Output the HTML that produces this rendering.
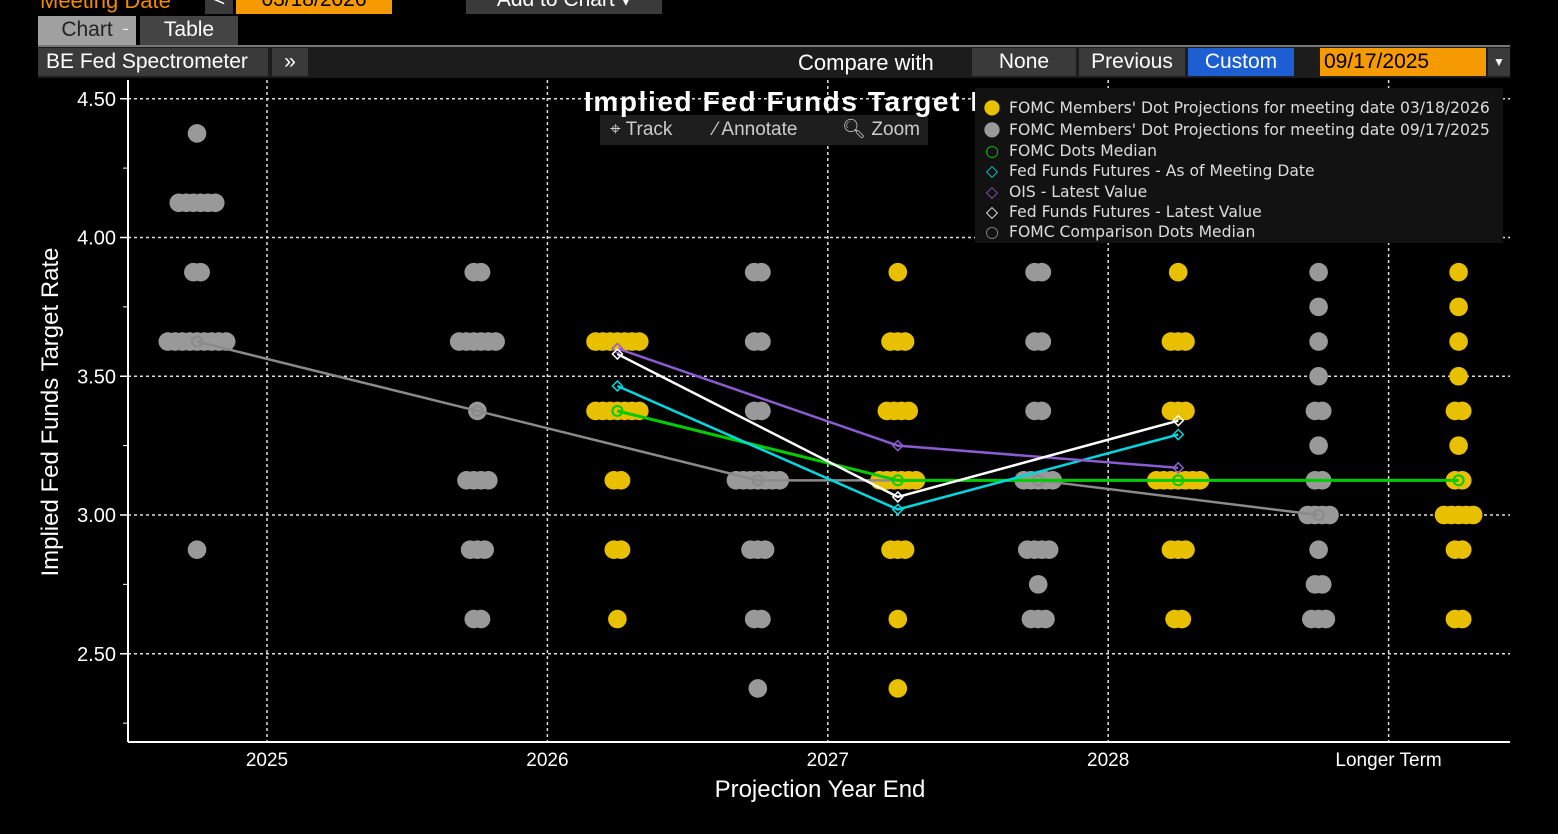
<!DOCTYPE html>
<html><head><meta charset="utf-8"><style>
body{margin:0;width:1558px;height:834px;background:#000;overflow:hidden;font-family:"Liberation Sans","DejaVu Sans",sans-serif;color:#fff}
.abs{position:absolute}
.btn{position:absolute;background:#3a3a3a;color:#fff;font-size:21px;text-align:center;line-height:28px;height:28px}
</style></head><body>
<div class="abs" style="left:40px;top:-12px;color:#f08a00;font-size:22px">Meeting Date</div>
<div class="btn" style="left:205px;top:-14px;width:28px">&lt;</div>
<div class="btn" style="left:236px;top:-14px;width:156px;background:#f59a00;color:#000">03/18/2026</div>
<div class="btn" style="left:466px;top:-14px;width:196px">Add to Chart ▾</div>
<div class="btn" style="left:38px;top:16px;width:98px;background:#a0a0a0;color:#222;height:29px">Chart</div>
<div class="btn" style="left:140px;top:16px;width:98px;background:#444;height:29px">Table</div>
<div class="abs" style="left:38px;top:45px;width:1472px;height:2px;background:#777"></div>
<div class="abs" style="left:38px;top:47px;width:1472px;height:31px;background:#1c1c1c"></div>
<div class="btn" style="left:38px;top:48px;width:230px;text-align:left;padding-left:8px;box-sizing:border-box">BE Fed Spectrometer</div>
<div class="btn" style="left:272px;top:48px;width:36px">»</div>
<div class="abs" style="left:798px;top:48px;font-size:22px;line-height:30px">Compare with</div>
<div class="btn" style="left:972px;top:48px;width:104px">None</div>
<div class="btn" style="left:1079px;top:48px;width:106px">Previous</div>
<div class="btn" style="left:1188px;top:48px;width:106px;background:#1d5fd2">Custom</div>
<div class="btn" style="left:1320px;top:48px;width:166px;background:#f59a00;color:#000;text-align:left;padding-left:4px;box-sizing:border-box">09/17/2025</div>
<div class="btn" style="left:1488px;top:48px;width:22px;font-size:12px">▼</div>

<svg class="abs" style="left:0;top:0" width="1558" height="834" id="chart"></svg>

<div class="abs" style="left:600px;top:115px;width:328px;height:30px;background:#1e1e1e;font-size:19px;color:#ccc;line-height:30px">
<span style="position:absolute;left:10px">⌖ Track</span>
<span style="position:absolute;left:114px">⁄ Annotate</span>
<span style="position:absolute;left:242px">🔍︎ Zoom</span></div>
<div class="abs" style="left:584px;top:86px;font-size:28px;font-weight:bold;letter-spacing:1.6px">Implied Fed Funds Target Rate</div>
<div class="abs" style="left:975px;top:88px;width:528px;height:155px;background:#121212;font-family:'DejaVu Sans',sans-serif;font-size:15.6px;color:#ddd;line-height:20.4px;padding-top:8px;box-sizing:border-box;z-index:5">
<div><span style="display:inline-block;width:34px;text-align:center;color:#e8c000;font-size:20px">●</span>FOMC Members' Dot Projections for meeting date 03/18/2026</div>
<div><span style="display:inline-block;width:34px;text-align:center;color:#999;font-size:20px">●</span>FOMC Members' Dot Projections for meeting date 09/17/2025</div>
<div><span style="display:inline-block;width:34px;text-align:center;color:#0c0">○</span>FOMC Dots Median</div>
<div><span style="display:inline-block;width:34px;text-align:center;color:#0dd">◇</span>Fed Funds Futures - As of Meeting Date</div>
<div><span style="display:inline-block;width:34px;text-align:center;color:#8a5cd0">◇</span>OIS - Latest Value</div>
<div><span style="display:inline-block;width:34px;text-align:center;color:#fff">◇</span>Fed Funds Futures - Latest Value</div>
<div><span style="display:inline-block;width:34px;text-align:center;color:#888">○</span>FOMC Comparison Dots Median</div>
</div>

<script>
const categories=["2025","2026","2027","2028","Longer Term"];
const yTicks=[4.5,4.0,3.5,3.0,2.5];
const yTickLabels=["4.50","4.00","3.50","3.00","2.50"];
// [categoryIndex, rate, count]
const grayDots=[[0,4.375,1],[0,4.125,6],[0,3.875,2],[0,3.625,9],[0,2.875,1],
[1,3.875,2],[1,3.625,6],[1,3.375,1],[1,3.125,4],[1,2.875,3],[1,2.625,2],
[2,3.875,2],[2,3.625,2],[2,3.375,2],[2,3.125,7],[2,2.875,3],[2,2.625,2],[2,2.375,1],
[3,3.875,2],[3,3.625,2],[3,3.375,2],[3,3.125,5],[3,2.875,4],[3,2.75,1],[3,2.625,3],
[4,3.875,1],[4,3.75,1],[4,3.625,1],[4,3.5,1],[4,3.375,2],[4,3.25,1],[4,3.125,2],[4,3.0,4],[4,2.875,1],[4,2.75,2],[4,2.625,3]];
const yellowDots=[[1,3.625,7],[1,3.375,7],[1,3.125,2],[1,2.875,2],[1,2.625,1],
[2,3.875,1],[2,3.625,3],[2,3.375,4],[2,3.125,6],[2,2.875,3],[2,2.625,1],[2,2.375,1],
[3,3.875,1],[3,3.625,3],[3,3.375,3],[3,3.125,7],[3,2.875,3],[3,2.625,2],
[4,3.875,1],[4,3.75,1],[4,3.625,1],[4,3.5,1],[4,3.375,2],[4,3.25,1],[4,3.125,2],[4,3.0,5],[4,2.875,2],[4,2.625,2]];
const comparisonMedian=[3.625,3.375,3.125,3.125,3.0];
const dotsMedian=[null,3.375,3.125,3.125,3.125];
const ffMeeting=[null,3.465,3.02,3.29,null];
const oisLatest=[null,3.60,3.25,3.17,null];
const ffLatest=[null,3.58,3.065,3.34,null];

const svg=document.getElementById('chart');
const NS='http://www.w3.org/2000/svg';
const X0=128,X1=1510,YB=742;
function xCat(i){return 267+i*280.4;}
function yVal(v){return 515-(v-3.0)*277.5;}
function el(t,a,p){const e=document.createElementNS(NS,t);for(const k in a)e.setAttribute(k,a[k]);(p||svg).appendChild(e);return e;}
yTicks.forEach((v,i)=>{
 const g=el('line',{x1:X0,x2:X1,y1:yVal(v),y2:yVal(v),stroke:'#ddd','stroke-width':1.5,'stroke-dasharray':'3,3'});
 
 
 el('line',{x1:X0-8,x2:X0,y1:yVal(v),y2:yVal(v),stroke:'#fff','stroke-width':1.5});
 const t=el('text',{x:X0-12,y:yVal(v)+7,'text-anchor':'end',fill:'#fff','font-size':20,'font-family':'Liberation Sans'});
 t.textContent=yTickLabels[i];
 
 
 el('line',{x1:X0-5,x2:X0,y1:yVal(v)-69.4,y2:yVal(v)-69.4,stroke:'#fff'});
});
el('line',{x1:X0-5,x2:X0,y1:yVal(2.25),y2:yVal(2.25),stroke:'#fff'});
categories.forEach((c,i)=>{
 const g=el('line',{x1:xCat(i),x2:xCat(i),y1:80,y2:YB,stroke:'#ddd','stroke-width':1.5,'stroke-dasharray':'3,3'});
 
 
 const t=el('text',{x:xCat(i),y:766,'text-anchor':'middle',fill:'#fff','font-size':19,'font-family':'Liberation Sans'});
 t.textContent=c;
 
 
});
el('line',{x1:X0,x2:X0,y1:80,y2:YB,stroke:'#fff','stroke-width':2});
el('line',{x1:X0,x2:X1,y1:YB,y2:YB,stroke:'#fff','stroke-width':2});
const yt=el('text',{x:0,y:0,transform:'translate(58,412) rotate(-90)','text-anchor':'middle',fill:'#fff','font-size':24,'font-family':'Liberation Sans'});
yt.textContent='Implied Fed Funds Target Rate';


const xt=el('text',{x:820,y:797,'text-anchor':'middle',fill:'#fff','font-size':24,'font-family':'Liberation Sans'});
xt.textContent='Projection Year End';


function drawDots(arr,off,color,name){
 arr.forEach(d=>{
  const cx=xCat(d[0])+off,cy=yVal(d[1]),n=d[2],step=7.3;
  for(let k=0;k<n;k++){
   const c=el('circle',{cx:cx-(n-1)*step/2+k*step,cy:cy,r:9.3,fill:color});
   
   
  }
 });
}
drawDots(grayDots,-70,'#999','comparison-dot');
drawDots(yellowDots,70,'#e8c000','current-dot');
function drawLine(vals,off,color,w,name,marker){
 const pts=[];vals.forEach((v,i)=>{if(v!==null)pts.push([xCat(i)+off,yVal(v)]);});
 const p=el('polyline',{points:pts.map(p=>p.join(',')).join(' '),fill:'none',stroke:color,'stroke-width':w});
 
 
 pts.forEach(q=>{
  if(marker==='circle')el('circle',{cx:q[0],cy:q[1],r:5,fill:'none',stroke:color,'stroke-width':2});
  else el('path',{d:`M${q[0]} ${q[1]-5}L${q[0]+5} ${q[1]}L${q[0]} ${q[1]+5}L${q[0]-5} ${q[1]}Z`,fill:'none',stroke:color,'stroke-width':1.5});
 });
}
drawLine(comparisonMedian,-70,'#8a8a8a',2.5,'comparison-median-line','circle');
drawLine(dotsMedian,70,'#00cc00',3,'dots-median-line','circle');
drawLine(ffMeeting,70,'#00d8e0',2.5,'ff-futures-meeting-line','diamond');
drawLine(oisLatest,70,'#8a5cd0',2.5,'ois-latest-line','diamond');
drawLine(ffLatest,70,'#ffffff',2.5,'ff-futures-latest-line','diamond');
</script>
</body></html>
